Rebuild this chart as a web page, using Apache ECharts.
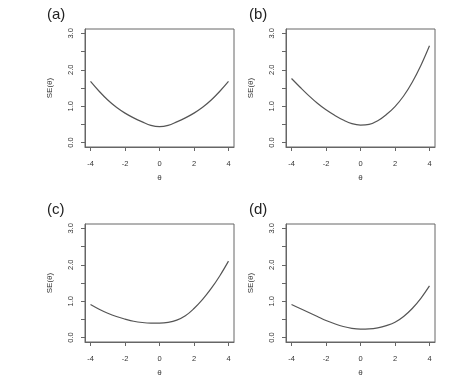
<!DOCTYPE html>
<html><head><meta charset="utf-8">
<script src="https://cdn.jsdelivr.net/npm/echarts@6/dist/echarts.min.js"></script>
<style>html,body{margin:0;padding:0;background:#fff}#c{width:474px;height:379px}</style>
</head><body><div id="c"></div>
<script>
const theta = [-4,-3.5,-3,-2.5,-2,-1.5,-1,-0.5,0,0.5,1,1.5,2,2.5,3,3.5,4];
const seA = [1.68,1.41,1.17,0.97,0.81,0.68,0.57,0.475,0.44,0.475,0.57,0.68,0.81,0.97,1.17,1.41,1.68];
const seB = [1.76,1.52,1.29,1.08,0.90,0.75,0.62,0.52,0.48,0.50,0.60,0.77,0.99,1.28,1.66,2.12,2.66];
const seC = [0.91,0.78,0.67,0.58,0.51,0.45,0.415,0.40,0.40,0.42,0.48,0.60,0.80,1.05,1.35,1.70,2.10];
const seD = [0.91,0.80,0.69,0.58,0.47,0.38,0.305,0.255,0.235,0.24,0.27,0.33,0.42,0.58,0.80,1.08,1.42];
const panelLabels = ['(a)','(b)','(c)','(d)'];
const xTicks = [-4,-2,0,2,4];
const yTicks = [0,0.5,1,1.5,2,2.5,3];
const yLabels = [0,1,2,3];
const series = [seA, seB, seC, seD];

const gridPos = [
  {left:85, top:29}, {left:286, top:29},
  {left:85, top:224}, {left:286, top:224}
];
const labelPos = [
  {left:42, top:2}, {left:244, top:2},
  {left:42, top:197}, {left:244, top:197}
];
const font = 'Liberation Sans, Arial, sans-serif';
const axCol = '#666';
const txtCol = '#333';

const option = {
  animation:false,
  backgroundColor:'#fff',
  title: panelLabels.map((t,i)=>({text:t, left:labelPos[i].left, top:labelPos[i].top,
    textStyle:{fontSize:15, fontWeight:'normal', color:'#222', fontFamily:font}})),
  grid: gridPos.map(g=>({left:g.left, top:g.top, width:149, height:118, show:true,
    borderColor:axCol, borderWidth:1, containLabel:false})),
  xAxis: gridPos.map((g,i)=>({type:'value', gridIndex:i, min:-4.32, max:4.32,
    name:'θ', nameLocation:'middle', nameGap:27,
    nameTextStyle:{fontSize:8, color:txtCol, fontFamily:font},
    axisLine:{show:true, onZero:false, lineStyle:{color:axCol, width:1}},
    axisTick:{show:true, customValues:xTicks, length:4, lineStyle:{color:axCol}},
    axisLabel:{customValues:xTicks, fontSize:7.5, color:txtCol, fontFamily:font, margin:13},
    splitLine:{show:false}})),
  yAxis: gridPos.map((g,i)=>({type:'value', gridIndex:i, min:-0.12, max:3.12,
    name:'SE(θ)', nameLocation:'middle', nameGap:31, nameRotate:90,
    nameTextStyle:{fontSize:8, color:txtCol, fontFamily:font},
    axisLine:{show:true, onZero:false, lineStyle:{color:axCol, width:1}},
    axisTick:{show:true, customValues:yTicks, length:4, lineStyle:{color:axCol}},
    axisLabel:{customValues:yLabels, rotate:90, fontSize:7.5, color:txtCol, fontFamily:font, margin:10,
      formatter:v=>Number(v).toFixed(1)},
    splitLine:{show:false}})),
  series: series.map((s,i)=>({type:'line', xAxisIndex:i, yAxisIndex:i,
    data: theta.map((t,k)=>[t,s[k]]), smooth:0.4, showSymbol:false,
    lineStyle:{color:'#555', width:1.2}}))
};
echarts.init(document.getElementById('c'),null,{renderer:'canvas'}).setOption(option);
</script></body></html>
